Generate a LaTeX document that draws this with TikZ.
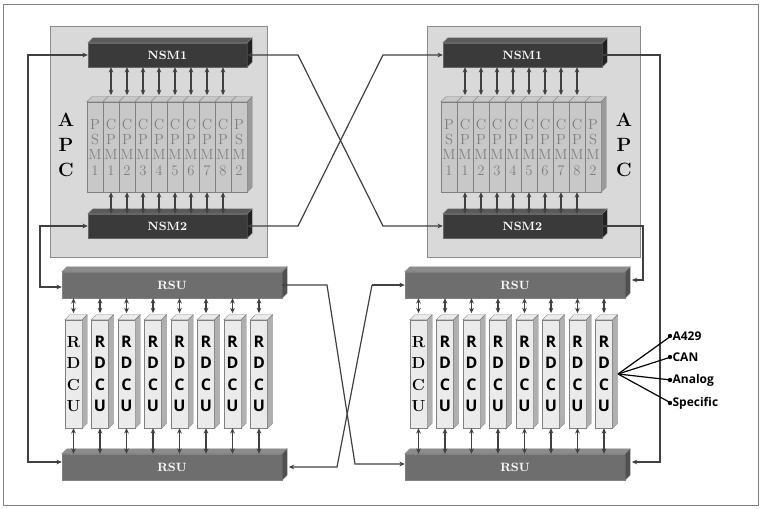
\documentclass[tikz,border=0pt]{standalone}
\usepackage{fontspec}
\newfontfamily\sansb{Open Sans}
\usetikzlibrary{arrows.meta,calc}
\definecolor{nsm}{HTML}{3A3A3A}
\definecolor{nsmtop}{HTML}{5A5A5A}
\definecolor{nsmside}{HTML}{222222}
\definecolor{rsu}{HTML}{6E6E6E}
\definecolor{rsutop}{HTML}{8C8C8C}
\definecolor{rsuside}{HTML}{505050}
\definecolor{apc}{HTML}{D9D9D9}
\definecolor{card}{HTML}{C8C8C8}
\definecolor{cardside}{HTML}{9A9A9A}
\definecolor{rd}{HTML}{EBEBEB}
\definecolor{rdside}{HTML}{B0B0B0}
\definecolor{ln}{HTML}{404040}
\newcommand\tdfaces[4]{%
  \filldraw[#3,draw=black!50,line width=0.3pt] (#1.north west) -- ++(#2,-#2) -- ([shift={(#2,-#2)}]#1.north east) -- (#1.north east) -- cycle;
  \filldraw[#4,draw=black!50,line width=0.3pt] (#1.north east) -- ++(#2,-#2) -- ([shift={(#2,-#2)}]#1.south east) -- (#1.south east) -- cycle;}
\begin{document}
\begin{tikzpicture}[x=0.75pt,y=-0.75pt,
  nsmb/.style={draw=black!60,line width=0.3pt,fill=nsm,text=white,font=\bfseries\small,minimum width=159*0.75pt,minimum height=24*0.75pt,inner sep=0},
  rsub/.style={draw=black!50,line width=0.3pt,fill=rsu,text=white,font=\bfseries\small,minimum width=220*0.75pt,minimum height=26*0.75pt,inner sep=0},
  pcard/.style={draw=black!50,line width=0.3pt,fill=card,text=black!50,minimum width=16*0.75pt,minimum height=90*0.75pt,inner sep=0,font=\fontsize{11}{11.5}\selectfont,align=center},
  rcard/.style={draw=black!50,line width=0.3pt,fill=rd,text=black,minimum width=17*0.75pt,minimum height=108*0.75pt,inner sep=0,align=center},
  dar/.style={{Stealth[length=4pt,width=3.5pt]}-{Stealth[length=4pt,width=3.5pt]},line width=1pt,ln},
  con/.style={-{Stealth[length=4pt,width=3.5pt]},line width=0.9pt,ln},
  con2/.style={{Stealth[length=4pt,width=3.5pt]}-{Stealth[length=4pt,width=3.5pt]},line width=0.9pt,ln},
  lab/.style={font=\sansb\bfseries\small,anchor=west,inner sep=1pt}]
\useasboundingbox (0,0) rectangle (765,509);
\draw[black!50,line width=0.6pt] (3,4) rectangle (758,505);
% APC boxes
\node[draw=black!45,fill=apc,minimum width=217*0.75pt,minimum height=231*0.75pt,inner sep=0] (apcL) at (158.5,141.5) {};
\node[draw=black!45,fill=apc,minimum width=213*0.75pt,minimum height=231*0.75pt,inner sep=0] (apcR) at (533.5,141.5) {};
\node[font=\bfseries\Large,align=center] (apcLt) at (66,145) {A\\[1pt]P\\[1pt]C};
\node[font=\bfseries\Large,align=center] (apcRt) at (624,145) {A\\[1pt]P\\[1pt]C};
% NSM
\node[nsmb] (n1L) at (167.5,55) {NSM1}; \tdfaces{n1L}{5}{nsmtop}{nsmside}
\node[nsmb] (n2L) at (167.5,226) {NSM2}; \tdfaces{n2L}{5}{nsmtop}{nsmside}
\node[nsmb] (n1R) at (522.5,55) {NSM1}; \tdfaces{n1R}{5}{nsmtop}{nsmside}
\node[nsmb] (n2R) at (522.5,226) {NSM2}; \tdfaces{n2R}{5}{nsmtop}{nsmside}
% PSM/CPM cards
\foreach \sd/\xs in {L/87,R/441}{
  \foreach \i/\tx in {0/{P\\S\\M\\1},1/{C\\P\\M\\1},2/{C\\P\\M\\2},3/{C\\P\\M\\3},4/{C\\P\\M\\4},5/{C\\P\\M\\5},6/{C\\P\\M\\6},7/{C\\P\\M\\7},8/{C\\P\\M\\8},9/{P\\S\\M\\2}}{
    \node[pcard] (p\sd\i) at ({\xs+8+16*\i},147) {\tx};
    \tdfaces{p\sd\i}{5}{card}{cardside}
  }
  \foreach \i in {1,...,8}{
    \draw[dar] (n1\sd.south -| p\sd\i.north) -- ([yshift=5pt]p\sd\i.north);
    \draw[dar] (p\sd\i.south) -- (n2\sd.north -| p\sd\i.south);
  }
}
% RSU
\node[rsub] (r1L) at (172,285) {RSU}; \tdfaces{r1L}{5}{rsutop}{rsuside}
\node[rsub] (r2L) at (172,467) {RSU}; \tdfaces{r2L}{5}{rsutop}{rsuside}
\node[rsub] (r1R) at (515,285) {RSU}; \tdfaces{r1R}{5}{rsutop}{rsuside}
\node[rsub] (r2R) at (515,467) {RSU}; \tdfaces{r2R}{5}{rsutop}{rsuside}
% RDCU cards
\tikzset{serifc/.style={font=\bfseries\fontsize{12}{16}\selectfont}, sansc/.style={font=\sansb\bfseries\fontsize{12}{16}\selectfont}}
\foreach \sd/\xs in {L/65,R/410}{
  \foreach \i/\st in {0/serifc,1/sansc,2/sansc,3/sansc,4/sansc,5/sansc,6/sansc,7/sansc}{
    \node[rcard,\st] (c\sd\i) at ({\xs+8.5+26.5*\i},374) {R\\D\\C\\U};
    \tdfaces{c\sd\i}{5}{rd}{rdside}
    \draw[dar] (r1\sd.south -| c\sd\i.north) -- ([yshift=5pt]c\sd\i.north);
    \draw[dar] (c\sd\i.south) -- (r2\sd.north -| c\sd\i.south);
  }
}
% outer connectors left
\draw[con2] (n1L.west) -- (28,55) -- (28,462) -- (r2L.west |- 0,462);
\draw[con2] (n2L.west) -- (40,226) -- (40,287) -- (r1L.west |- 0,287);
% NSM cross
\draw[con2] (n1L.east) -- (298,55) -- (383,226) -- (n2R.west);
\draw[con2] (n2L.east) -- (298,226) -- (383,55) -- (n1R.west);
% right outer
\draw[con] (n1R.east) -- (660,55) -- (660,462) -- ([xshift=5pt]r2R.east |- 0,462);
\draw[con] (n2R.east) -- (643,226) -- (643,280) -- ([xshift=5pt]r1R.east |- 0,280);
% RSU cross
\draw[con] (r1L.east) -- (327,285) -- (355,464) -- (r2R.west |- 0,464);
\coordinate (xa) at (372,285);
\draw[con] (xa) -- (337,467) -- ([xshift=5pt]r2L.east |- 0,467);
\draw[con] (xa) -- (r1R.west |- 0,285);
% signal outputs
\coordinate (src) at ([xshift=4pt]cR7.east);
\foreach \y/\tx/\nm in {336/A429/a,357/CAN/b,380/Analog/c,403/Specific/d}{
  \fill[black] (670,\y) circle (2.2);
  \node[lab] (\nm) at (671,\y) {\tx};
  \draw[line width=0.9pt] (src) -- (\nm.west);
}
\end{tikzpicture}
\end{document}
